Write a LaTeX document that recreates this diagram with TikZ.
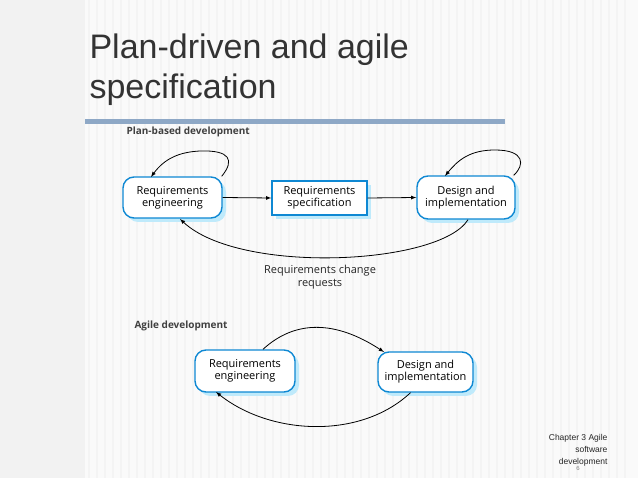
\documentclass[tikz,border=0pt]{standalone}
\usepackage{fontspec}
\setmainfont{Liberation Sans}
\newfontfamily\figfont{Open Sans}
\definecolor{rule}{HTML}{8EA8C6}
\begin{document}
\begin{tikzpicture}[x=1pt,y=-1pt,
  box/.style={draw=cyan!70!blue,line width=1.4pt,fill=white,align=center,font=\figfont\fontsize{11}{12}\selectfont,text=black,inner sep=2pt},
  rbox/.style={box,rounded corners=11pt},
  shad/.style={fill=cyan!25,rounded corners=11pt},
  arr/.style={-latex,line width=0.8pt},
  lab/.style={font=\figfont\bfseries\fontsize{10}{11}\selectfont,text=black!75,anchor=west}]
\useasboundingbox (0,0) rectangle (638,478);
\fill[gray!10] (0,0) rectangle (638,478);
\fill[gray!4] (85,0) rectangle (638,478);
\foreach \x in {88,96,...,630} \fill[gray!9] (\x,0) rectangle (\x+2,478);
\node[anchor=west,text=black!80,font=\fontsize{34}{36}\selectfont] (t1) at (86,50) {Plan-driven and agile};
\node[anchor=west,text=black!80,font=\fontsize{34}{36}\selectfont] (t2) at (86,90) {specification};
\fill[rule] (85,119) rectangle (505,124);
\node[lab] (l1) at (123,132) {Plan-based development};
% shadows
\fill[shad] (127,181) rectangle (226,222);
\fill[cyan!25] (276,185) rectangle (371,219);
\fill[shad] (421,180) rectangle (519,223);
\fill[shad] (199,354) rectangle (299,396);
\fill[shad] (382,356) rectangle (477,396);
\node[rbox,minimum width=99pt,minimum height=41pt] (re) at (172.5,197.5) {Requirements\\engineering};
\node[box,minimum width=95pt,minimum height=34pt] (rs) at (319.5,198) {Requirements\\specification};
\node[rbox,minimum width=98pt,minimum height=43pt] (di) at (466,197.5) {Design and\\implementation};
\draw[arr] (re.east) -- (rs.west);
\draw[arr] (rs.east) -- (di.west);
\draw[arr] ([xshift=-1pt]re.north east) .. controls (235,160) and (230,150) .. (200,151) .. controls (180,152) and (165,158) .. (151,177);
\draw[arr] ([xshift=-2pt]di.north east) .. controls (525,165) and (525,150) .. (495,150) .. controls (470,150) and (458,160) .. (445,176);
\draw[arr] ([xshift=2pt]di.south) .. controls (440,265) and (240,275) .. (180,219);
\node[font=\figfont\fontsize{11}{13}\selectfont,align=center,text=black!85] (ch) at (320,277) {Requirements change\\requests};
\node[lab] (l2) at (131,326) {Agile development};
\node[rbox,minimum width=100pt,minimum height=42pt] (re2) at (245,371) {Requirements\\engineering};
\node[rbox,minimum width=95pt,minimum height=40pt] (di2) at (425.5,372) {Design and\\implementation};
\draw[arr] ([xshift=18pt]re2.north) .. controls (295,320) and (335,320) .. (384,352);
\draw[arr] ([xshift=-15pt]di2.south) .. controls (360,440) and (270,435) .. (216,392);
\node[anchor=east,align=right,font=\fontsize{8.5}{12}\selectfont,text=black!85] (ft) at (611,450) {Chapter 3 Agile\\software\\development};
\node[font=\fontsize{6}{7}\selectfont,text=gray] (pg) at (578,468) {6};
\end{tikzpicture}
\end{document}
